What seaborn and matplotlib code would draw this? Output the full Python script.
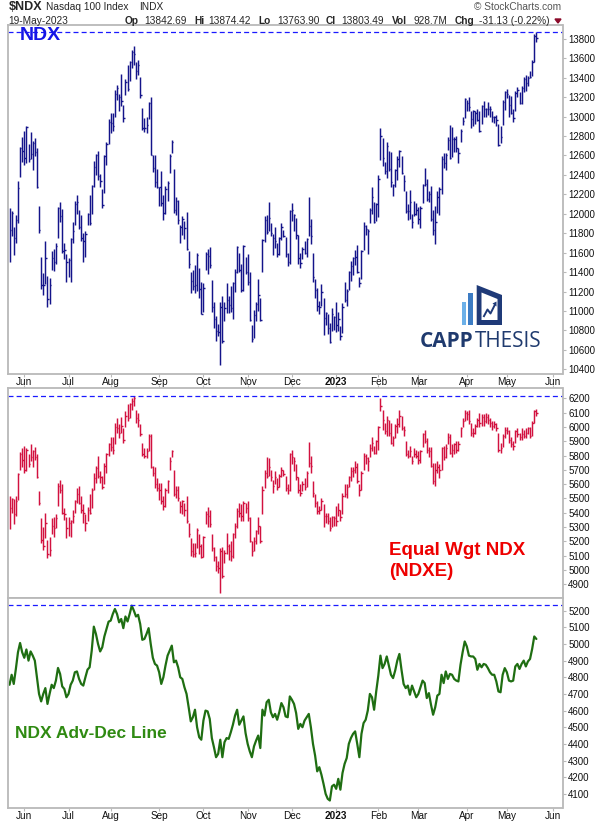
import numpy as np
import pandas as pd
import matplotlib
matplotlib.use("Agg")
import matplotlib.pyplot as plt
import seaborn as sns
from matplotlib.patches import Rectangle, Polygon

# ---------------- data ----------------
holidays = ["2022-05-30", "2022-06-20", "2022-07-04", "2022-09-05", "2022-11-24",
            "2022-12-26", "2023-01-02", "2023-01-16", "2023-02-20", "2023-04-07", "2023-05-29"]
all_days = pd.bdate_range("2022-05-20", "2023-06-02", freq="C", holidays=holidays)
dates = all_days[all_days <= "2023-05-19"]

month_labels = ["Jun", "Jul", "Aug", "Sep", "Oct", "Nov", "Dec", "2023",
                "Feb", "Mar", "Apr", "May", "Jun"]

ndx_close = [
    11835, 12005, 11752, 11935, 12262, 12681, 12643, 12571, 12888, 12566,
    12617, 12728, 12632, 12272, 11830, 11265, 11265, 11550, 11128, 11265,
    11540, 11500, 11665, 12060, 11973, 11620, 11627, 11503, 11528, 11741,
    11826, 12100, 12125, 11860, 11750, 11723, 11792, 12000, 11900, 12290,
    12483, 12605, 12390, 12339, 12085, 12589, 12715, 12947, 12930, 12900,
    13235, 13297, 13205, 13156, 12983, 13350, 13282, 13560, 13660, 13640,
    13473, 13530, 13223, 12880, 12880, 12912, 13140, 12605, 12466, 12323,
    12272, 12275, 12110, 12011, 12250, 12321, 12589, 12740, 12041, 12135,
    11932, 11861, 11950, 11850, 11640, 11486, 11311, 11255, 11270, 11580,
    11230, 10972, 11233, 11590, 11565, 11475, 11040, 10920, 10790, 10780,
    11040, 10690, 11030, 11115, 11065, 11030, 11290, 11400, 11660, 11420,
    11220, 11665, 11405, 11300, 10906, 10715, 10957, 11075, 11160, 10910,
    11735, 11940, 11810, 11960, 11800, 11755, 11715, 11590, 11750, 11860,
    11770, 11590, 11500, 12030, 12040, 11990, 11780, 11540, 11490, 11640,
    11600, 11740, 11870, 11770, 11350, 11220, 11050, 11040, 11200, 10930,
    10980, 10820, 10680, 10970, 10940, 10860, 10915, 10740, 11040, 11110,
    11210, 11400, 11460, 11540, 11560, 11400, 11290, 11620, 11870, 11840,
    11820, 12040, 12170, 11910, 12100, 12360, 12800, 12570, 12440, 12700,
    12460, 12330, 12300, 12450, 12560, 12650, 12420, 12340, 12030, 12030,
    12120, 11920, 12000, 12040, 11950, 12060, 12300, 12310, 12150, 12200,
    11950, 11830, 11910, 12170, 12250, 12560, 12520, 12600, 12760, 12570,
    12770, 12770, 12680, 12620, 12850, 12950, 13180, 13140, 13100, 12970,
    13060, 13040, 12960, 12850, 13110, 13080, 13080, 13080, 13080, 12990,
    13000, 12960, 12710, 12790, 13150, 13250, 13230, 13120, 13040, 12980,
    13240, 13270, 13140, 13290, 13390, 13340, 13400, 13410, 13560, 13830, 13803]

ndx_high = [
    12060, 12030, 11860, 11990, 12340, 12690, 12790, 12850, 12900, 12720,
    12840, 12750, 12780, 12680, 12080, 11560, 11390, 11720, 11360, 11340,
    11620, 11640, 11700, 12070, 12120, 12050, 11700, 11590, 11540, 11750,
    11920, 12130, 12190, 12040, 11990, 11800, 11820, 12010, 12190, 12300,
    12540, 12610, 12650, 12410, 12250, 12600, 12740, 12970, 13040, 13040,
    13270, 13320, 13230, 13440, 13120, 13390, 13530, 13570, 13680, 13720,
    13560, 13580, 13410, 13090, 12980, 12990, 13150, 13200, 12600, 12600,
    12460, 12280, 12440, 12190, 12290, 12340, 12610, 12760, 12460, 12170,
    12140, 11880, 11980, 11930, 12020, 11620, 11400, 11420, 11470, 11600,
    11440, 11300, 11290, 11610, 11640, 11660, 11320, 11090, 10950, 10870,
    11090, 11150, 11090, 11290, 11150, 11260, 11300, 11430, 11670, 11600,
    11480, 11680, 11560, 11590, 11400, 10860, 11010, 11090, 11330, 11130,
    11740, 11980, 11990, 12120, 11900, 11790, 11860, 11700, 11760, 11900,
    11830, 11760, 11600, 12040, 12110, 12000, 11960, 11780, 11600, 11660,
    11720, 11750, 12170, 11950, 11600, 11330, 11240, 11100, 11280, 11130,
    10990, 10970, 10880, 11030, 10950, 11090, 10990, 10850, 11080, 11300,
    11230, 11410, 11510, 11560, 11630, 11680, 11350, 11630, 11920, 11880,
    11840, 12060, 12270, 12120, 12110, 12400, 12880, 12780, 12530, 12740,
    12650, 12630, 12310, 12460, 12590, 12660, 12590, 12400, 12230, 12100,
    12240, 12000, 12130, 12110, 12070, 12080, 12310, 12470, 12360, 12230,
    12290, 12040, 12080, 12230, 12270, 12590, 12620, 12620, 12790, 12910,
    12890, 12790, 12800, 12680, 12870, 12990, 13190, 13170, 13200, 13060,
    13070, 13060, 13080, 13060, 13120, 13160, 13090, 13150, 13110, 13060,
    13010, 13020, 12920, 12900, 13170, 13260, 13280, 13220, 13210, 13080,
    13260, 13300, 13250, 13310, 13410, 13430, 13420, 13470, 13580, 13850, 13874]

ndx_low = [
    11500, 11770, 11580, 11700, 11900, 12380, 12530, 12500, 12520, 12530,
    12560, 12450, 12590, 12265, 11800, 11230, 11160, 11280, 11040, 11070,
    11420, 11410, 11480, 11750, 11920, 11600, 11530, 11300, 11350, 11300,
    11700, 11880, 12000, 11840, 11720, 11500, 11560, 11880, 11880, 12000,
    12280, 12400, 12350, 12280, 12060, 12210, 12500, 12720, 12830, 12850,
    12990, 13170, 13060, 13110, 12940, 13220, 13260, 13360, 13500, 13530,
    13390, 13430, 13190, 12860, 12840, 12830, 12970, 12600, 12430, 12270,
    12260, 12080, 12080, 11940, 12000, 12130, 12420, 12620, 12010, 11990,
    11890, 11700, 11780, 11740, 11630, 11440, 11180, 11220, 11190, 11210,
    11130, 10970, 10990, 11420, 11380, 11440, 10990, 10820, 10690, 10740,
    10440, 10670, 10900, 10980, 10980, 10990, 10920, 11200, 11390, 11400,
    11200, 11210, 11380, 11270, 10900, 10680, 10720, 10900, 11000, 10900,
    11400, 11710, 11790, 11820, 11770, 11580, 11650, 11560, 11580, 11730,
    11760, 11560, 11460, 11480, 11930, 11820, 11740, 11480, 11440, 11530,
    11590, 11560, 11770, 11690, 11300, 11130, 11000, 10970, 11050, 10750,
    10860, 10760, 10670, 10790, 10800, 10780, 10790, 10700, 10770, 11090,
    11050, 11220, 11310, 11370, 11470, 11390, 11250, 11330, 11630, 11780,
    11590, 11900, 12000, 11900, 11930, 11970, 12550, 12490, 12410, 12370,
    12440, 12280, 12180, 12270, 12350, 12480, 12410, 12230, 12010, 11940,
    11950, 11850, 11980, 11990, 11890, 11850, 12110, 12290, 12130, 12120,
    11930, 11780, 11690, 12010, 11990, 12200, 12470, 12450, 12660, 12560,
    12580, 12630, 12640, 12520, 12740, 12910, 12980, 13060, 13060, 12880,
    12900, 12920, 12950, 12840, 12920, 12990, 12990, 13020, 12990, 12940,
    12930, 12900, 12700, 12730, 12910, 13070, 13190, 13000, 13030, 12940,
    13060, 13200, 13130, 13130, 13250, 13260, 13310, 13400, 13420, 13560, 13764]

ndxe_close = [
    5430, 5495, 5390, 5480, 5670, 5810, 5770, 5700, 5840, 5740,
    5790, 5830, 5790, 5650, 5470, 5210, 5170, 5330, 5110, 5140,
    5310, 5290, 5360, 5590, 5560, 5400, 5390, 5290, 5330, 5340,
    5380, 5480, 5530, 5470, 5420, 5400, 5330, 5420, 5400, 5560,
    5640, 5710, 5660, 5650, 5580, 5730, 5810, 5880, 5860, 5840,
    6000, 5990, 5960, 6010, 5910, 6080, 6060, 6160, 6180, 6200,
    6060, 6050, 5950, 5810, 5800, 5830, 5940, 5720, 5680, 5600,
    5570, 5560, 5480, 5450, 5560, 5620, 5760, 5830, 5530, 5560,
    5500, 5450, 5480, 5420, 5340, 5250, 5130, 5110, 5120, 5280,
    5170, 5090, 5230, 5390, 5380, 5320, 5150, 5090, 5030, 5010,
    5130, 4960, 5120, 5170, 5130, 5100, 5250, 5310, 5410, 5400,
    5380, 5470, 5430, 5360, 5200, 5130, 5200, 5270, 5310, 5200,
    5560, 5680, 5660, 5720, 5650, 5590, 5650, 5580, 5660, 5700,
    5670, 5570, 5560, 5810, 5790, 5760, 5650, 5560, 5540, 5600,
    5580, 5680, 5750, 5730, 5540, 5470, 5410, 5420, 5480, 5380,
    5380, 5340, 5290, 5370, 5360, 5340, 5420, 5370, 5520, 5530,
    5580, 5650, 5690, 5700, 5720, 5620, 5560, 5680, 5800, 5780,
    5760, 5850, 5890, 5820, 5900, 6000, 6150, 6050, 5970, 6050,
    5960, 5890, 5920, 6010, 6020, 6080, 5990, 5980, 5810, 5800,
    5830, 5760, 5810, 5800, 5770, 5830, 5950, 5900, 5840, 5830,
    5730, 5620, 5700, 5720, 5700, 5850, 5790, 5850, 5930, 5820,
    5840, 5880, 5840, 5880, 5990, 6040, 6100, 6090, 6040, 5960,
    5960, 6010, 6050, 6030, 6070, 6040, 6070, 6050, 6030, 6010,
    6020, 5990, 5840, 5850, 5940, 5980, 5970, 5910, 5880, 5870,
    5970, 5950, 5930, 5950, 5940, 5960, 5990, 5940, 6030, 6110, 6100]

ndxe_high = [
    5515, 5505, 5495, 5520, 5680, 5825, 5850, 5870, 5850, 5810,
    5880, 5840, 5860, 5810, 5550, 5360, 5300, 5400, 5210, 5230,
    5360, 5370, 5390, 5610, 5630, 5600, 5430, 5370, 5370, 5350,
    5420, 5490, 5570, 5590, 5520, 5460, 5390, 5440, 5530, 5570,
    5680, 5730, 5800, 5690, 5660, 5750, 5820, 5890, 5930, 5930,
    6030, 6060, 6020, 6070, 5990, 6110, 6160, 6170, 6200, 6218,
    6120, 6100, 6020, 5890, 5850, 5850, 5950, 5950, 5730, 5720,
    5640, 5610, 5610, 5520, 5570, 5630, 5790, 5840, 5700, 5590,
    5590, 5480, 5490, 5470, 5520, 5330, 5220, 5190, 5190, 5290,
    5250, 5180, 5240, 5410, 5440, 5420, 5250, 5160, 5100, 5060,
    5150, 5160, 5140, 5260, 5180, 5200, 5260, 5330, 5430, 5470,
    5460, 5480, 5470, 5480, 5370, 5200, 5230, 5280, 5370, 5310,
    5590, 5700, 5790, 5780, 5700, 5630, 5690, 5640, 5670, 5720,
    5700, 5660, 5600, 5820, 5840, 5790, 5740, 5650, 5600, 5620,
    5640, 5690, 5893, 5800, 5620, 5530, 5480, 5450, 5500, 5460,
    5400, 5400, 5370, 5380, 5380, 5450, 5470, 5420, 5540, 5600,
    5600, 5660, 5720, 5720, 5760, 5750, 5600, 5690, 5820, 5810,
    5790, 5880, 5930, 5870, 5910, 6010, 6205, 6120, 6030, 6080,
    6050, 6030, 5940, 6020, 6060, 6120, 6080, 6010, 5900, 5840,
    5870, 5800, 5850, 5840, 5830, 5840, 5960, 5980, 5920, 5860,
    5860, 5750, 5750, 5760, 5740, 5860, 5870, 5880, 5960, 5950,
    5880, 5890, 5900, 5900, 6000, 6060, 6120, 6110, 6120, 6030,
    5990, 6020, 6060, 6100, 6090, 6090, 6100, 6090, 6060, 6040,
    6040, 6030, 5960, 5890, 5950, 6000, 6000, 5980, 5930, 5900,
    5980, 5990, 5960, 5990, 5980, 5990, 6000, 6000, 6040, 6120, 6125]

ndxe_low = [
    5285, 5399, 5320, 5380, 5490, 5700, 5720, 5680, 5690, 5720,
    5760, 5720, 5770, 5645, 5455, 5190, 5140, 5220, 5080, 5100,
    5250, 5230, 5290, 5450, 5540, 5390, 5350, 5220, 5240, 5230,
    5330, 5400, 5470, 5460, 5400, 5330, 5270, 5340, 5390, 5430,
    5560, 5610, 5640, 5610, 5565, 5600, 5680, 5800, 5830, 5810,
    5880, 5960, 5920, 5960, 5890, 6000, 6040, 6060, 6120, 6150,
    6030, 6000, 5940, 5800, 5780, 5780, 5830, 5715, 5660, 5570,
    5550, 5490, 5460, 5420, 5440, 5540, 5700, 5790, 5520, 5500,
    5480, 5400, 5390, 5380, 5330, 5230, 5100, 5090, 5090, 5150,
    5110, 5080, 5090, 5320, 5300, 5300, 5130, 5060, 4990, 4980,
    4835, 4940, 5050, 5110, 5070, 5060, 5080, 5220, 5290, 5370,
    5340, 5340, 5400, 5340, 5195, 5100, 5130, 5180, 5250, 5190,
    5390, 5570, 5640, 5660, 5620, 5540, 5600, 5560, 5580, 5650,
    5660, 5550, 5530, 5550, 5740, 5690, 5630, 5540, 5520, 5550,
    5560, 5580, 5720, 5680, 5510, 5440, 5390, 5390, 5420, 5300,
    5330, 5320, 5270, 5300, 5310, 5310, 5380, 5340, 5390, 5510,
    5500, 5580, 5620, 5650, 5680, 5610, 5520, 5560, 5700, 5740,
    5690, 5790, 5830, 5810, 5810, 5840, 6110, 5980, 5950, 5940,
    5940, 5880, 5870, 5920, 5960, 6000, 5980, 5940, 5800, 5780,
    5790, 5740, 5790, 5780, 5740, 5750, 5860, 5890, 5820, 5790,
    5720, 5600, 5590, 5680, 5640, 5700, 5770, 5780, 5880, 5810,
    5790, 5810, 5820, 5830, 5930, 6000, 6040, 6050, 6020, 5940,
    5930, 5950, 6000, 6000, 6010, 6010, 6030, 6020, 6000, 5980,
    5990, 5970, 5825, 5820, 5860, 5920, 5950, 5890, 5860, 5840,
    5890, 5930, 5910, 5910, 5920, 5920, 5950, 5925, 5940, 6030, 6080]

ad_line = [
    4755, 4815, 4760, 4850, 4950, 5006, 4950, 4917, 4967, 4900,
    4955, 4930, 4900, 4800, 4700, 4655, 4700, 4735, 4640, 4700,
    4755, 4735, 4780, 4856, 4820, 4745, 4730, 4680, 4700, 4755,
    4780, 4830, 4835, 4790, 4760, 4750, 4800, 4846, 4860, 4960,
    5104, 5060, 5000, 4955, 4980, 5045, 5090, 5134, 5140, 5180,
    5210, 5180, 5130, 5150, 5095, 5165, 5135, 5180, 5230, 5200,
    5165, 5175, 5120, 5025, 5030, 5060, 5095, 5000, 4917, 4880,
    4870, 4830, 4760, 4800, 4870, 4930, 4960, 4990, 4890, 4900,
    4860, 4800, 4790, 4740, 4700, 4620, 4535, 4560, 4605, 4500,
    4440, 4425, 4540, 4600, 4595, 4550, 4435, 4380, 4320, 4340,
    4425, 4320, 4410, 4435, 4430, 4470, 4515, 4570, 4605, 4515,
    4540, 4565, 4465, 4400, 4355, 4320, 4385, 4420, 4450, 4375,
    4605, 4570, 4650, 4665, 4590, 4560, 4580, 4545, 4590, 4645,
    4620, 4565, 4560, 4685, 4665, 4640, 4585, 4490, 4520, 4500,
    4540, 4560, 4580, 4500, 4400, 4330, 4235, 4260, 4215, 4160,
    4100, 4070, 4060, 4145, 4155, 4130, 4190, 4125, 4225, 4280,
    4315, 4400, 4435, 4460, 4475, 4400, 4320, 4460, 4525, 4545,
    4600, 4700, 4680, 4605, 4715, 4810, 4930, 4855, 4880, 4925,
    4870, 4815, 4795, 4840, 4900, 4940, 4845, 4760, 4735, 4750,
    4695, 4750, 4715, 4680, 4700, 4740, 4780, 4765, 4675, 4705,
    4635, 4575, 4620, 4690, 4700, 4815, 4765, 4835, 4790, 4820,
    4815, 4790, 4780, 4775, 4875, 4950, 5015, 4985, 4930, 4925,
    4925, 4910, 4845, 4880, 4860, 4880, 4875, 4855, 4830, 4815,
    4815, 4775, 4715, 4710, 4815, 4855, 4830, 4780, 4775, 4780,
    4865, 4880, 4850, 4880, 4900, 4865, 4895, 4910, 4970, 5045, 5030]

top_ticks = list(range(10400, 13801, 200))
mid_ticks = list(range(4900, 6201, 100))
bot_ticks = list(range(4100, 5201, 100))

# ---------------- style ----------------
sns.set_style("white")
plt.rcParams["font.family"] = ["Liberation Sans", "DejaVu Sans"]

W, H = 595, 821
fig = plt.figure(figsize=(W / 100, H / 100), dpi=100)

def px_axes(left, top, right, bottom):
    return fig.add_axes([left / W, 1 - bottom / H, (right - left) / W, (bottom - top) / H])

ax1 = px_axes(8, 25, 562.5, 374)
ax2 = px_axes(8, 388, 562.5, 598)
ax3 = px_axes(8, 598, 562.5, 807.5)

n = len(dates)
xi = np.arange(n)
month_starts = pd.date_range("2022-06-01", "2023-06-01", freq="MS")
month_pos = [int(np.searchsorted(all_days.values, np.datetime64(m))) for m in month_starts]

FRAME = "#b9b9b9"
NAVY = "#14148a"
CRIMSON = "#d2113f"
GREEN_LINE = "#1f6e12"
DASH_BLUE = "#1a1aff"

def ohlc(ax, hi, lo, cl, color):
    ax.vlines(xi, lo, hi, color=color, lw=1.05)
    ax.hlines(cl, xi, xi + 0.65, color=color, lw=1.0)

ohlc(ax1, ndx_high, ndx_low, ndx_close, NAVY)
ohlc(ax2, ndxe_high, ndxe_low, ndxe_close, CRIMSON)
sns.lineplot(x=xi, y=ad_line, ax=ax3, color=GREEN_LINE, lw=1.6)

ax1.axhline(max(ndx_high), color=DASH_BLUE, lw=0.9, ls=(0, (4, 2.5)))
ax2.axhline(max(ndxe_high), color=DASH_BLUE, lw=0.9, ls=(0, (4, 2.5)))
ax3.axhline(max(ad_line) + 5, color=DASH_BLUE, lw=0.9, ls=(0, (4, 2.5)))

ax1.set_ylim(10352, 13941)
ax2.set_ylim(4803, 6273)
ax3.set_ylim(4018, 5276)

for ax, ticks in [(ax1, top_ticks), (ax2, mid_ticks), (ax3, bot_ticks)]:
    ax.set_xlim(-0.73, 262.4)
    ax.set_yticks(ticks)
    ax.set_yticklabels([str(t) for t in ticks])
    ax.yaxis.tick_right()
    ax.tick_params(axis="y", right=True, left=False, direction="out", length=2.5,
                   width=0.8, color=FRAME, pad=1.5, labelsize=7, labelcolor="#111111")
    ax.set_xticks(month_pos)
    ax.set_xlabel("")
    ax.set_ylabel("")
    for s in ax.spines.values():
        s.set_color(FRAME)
        s.set_linewidth(1.3)
    ax.set_facecolor("white")

for ax in (ax1, ax3):
    ax.set_xticklabels(month_labels)
    ax.tick_params(axis="x", bottom=True, direction="out", length=2.2, width=0.8,
                   color=FRAME, pad=0, labelsize=7.2, labelcolor="#111111")
    for lab in ax.get_xticklabels():
        if lab.get_text() == "2023":
            lab.set_fontweight("bold")

ax2.tick_params(axis="x", bottom=False, top=True, labelbottom=False, labeltop=False,
                direction="out", length=2.5, width=0.8, color=FRAME)

# ---------------- overlay (pixel coordinates) ----------------
ov = fig.add_axes([0, 0, 1, 1])
ov.set_xlim(0, W)
ov.set_ylim(H, 0)
ov.axis("off")
ov.patch.set_alpha(0)

# header
ov.text(8.5, 7, "$NDX", fontsize=9, fontweight="bold", va="center", ha="left")
ov.text(46, 7, "Nasdaq 100 Index", fontsize=7.3, va="center", ha="left")
ov.text(139, 7, "INDX", fontsize=7.3, va="center", ha="left")
ov.text(561.5, 7, "\u00a9 StockCharts.com", fontsize=7.3, va="center", ha="right", color="#555555")
ov.text(8.5, 21, "19-May-2023", fontsize=7.3, va="center", ha="left")
hdr = [("Op", 125, True), ("13842.69", 144, False), ("Hi", 194, True), ("13874.42", 208, False),
       ("Lo", 258, True), ("13763.90", 277, False), ("Cl", 326, True), ("13803.49", 341, False),
       ("Vol", 392, True), ("928.7M", 414, False), ("Chg", 455, True), ("-31.13 (-0.22%)", 479, False)]
for txt, x, bold in hdr:
    ov.text(x, 21, txt, fontsize=7.3, fontweight="bold" if bold else "normal", va="center", ha="left")
ov.add_patch(Polygon([(555, 19), (561, 19), (558, 23)], closed=True, color="#8b0a2a"))

# panel labels
ov.text(20, 36, "NDX", fontsize=14, fontweight="bold", color="#1515e6", va="center", ha="left")
ov.text(389, 550.5, "Equal Wgt NDX", fontsize=13.5, fontweight="bold", color="#ee0000", va="center", ha="left")
ov.text(389, 572, "(NDXE)", fontsize=13.5, fontweight="bold", color="#ee0000", va="center", ha="left")
ov.text(15, 733, "NDX Adv-Dec Line", fontsize=12.5, fontweight="bold", color="#2f8a12", va="center", ha="left")

# CAPP THESIS logo
ov.add_patch(Rectangle((461.7, 301.7), 4.2, 23.3, color="#6cb0e8", lw=0))
ov.add_patch(Rectangle((468.3, 292.7), 5.0, 32.3, color="#3c7cc4", lw=0))
ov.add_patch(Polygon([(476.7, 285), (502, 295), (502, 325), (476.7, 325)], closed=True, color="#1f3a78", lw=0))
ov.add_patch(Polygon([(481.5, 292.5), (497.5, 299), (497.5, 320), (481.5, 320)], closed=True, color="white", lw=0))
ov.plot([483.5, 487.5, 490.5, 495], [317, 309.5, 313.5, 304.5], color="#1f3a78", lw=1.4, solid_capstyle="butt")
ov.add_patch(Polygon([(492.5, 303.5), (496.5, 301.5), (496.5, 306.5)], closed=True, color="#1f3a78", lw=0))

renderer = fig.canvas.get_renderer()
logo_font = ["Open Sans", "DejaVu Sans"]
t_a = ov.text(420, 341.5, "CAPP", fontsize=13, fontweight="bold", color="#1f3a6e",
              va="center", ha="left", family=logo_font)
t_b = ov.text(470, 341.5, "THESIS", fontsize=13, fontweight="normal", color="#1f3a6e",
              va="center", ha="left", family=logo_font)
wa = t_a.get_window_extent(renderer).width
wb = t_b.get_window_extent(renderer).width
scale = 121.0 / (wa + wb + 1)
size = 13 * scale
t_a.set_fontsize(size)
t_b.set_fontsize(size)
wa2 = t_a.get_window_extent(renderer).width
t_b.set_x(420 + wa2 + 1)

fig.savefig("out.png", dpi=100)
